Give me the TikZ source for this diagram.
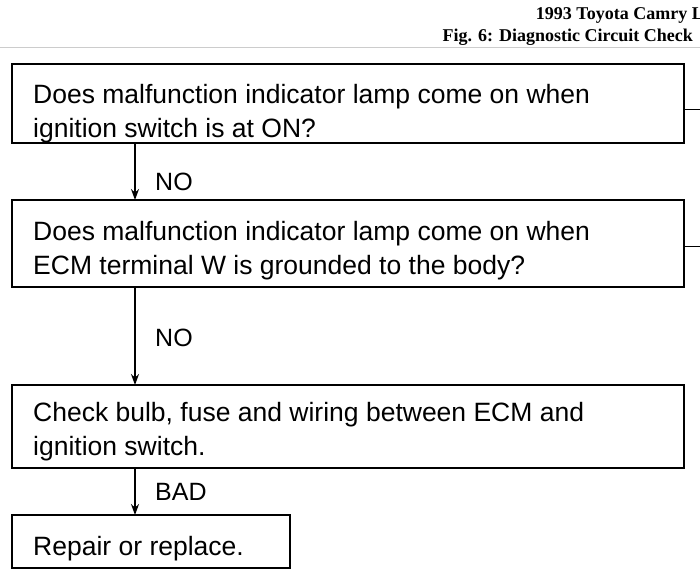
\documentclass[tikz,border=0pt]{standalone}
\usepackage{fontspec}
\setmainfont{Liberation Sans}
\newfontfamily\hdr{Liberation Serif}
\usetikzlibrary{arrows.meta}
\begin{document}
\begin{tikzpicture}[x=1pt,y=-1pt,
  box/.style={draw,line width=1.2pt},
  txt/.style={anchor=base west,align=left,font=\fontsize{26.5}{34}\selectfont,inner sep=0pt},
  lab/.style={anchor=base west,font=\fontsize{25}{28}\selectfont,inner sep=0pt},
  hd/.style={anchor=base east,inner sep=0pt,font=\hdr\bfseries\fontsize{18}{20}\selectfont},
  arr/.style={line width=1.2pt,-{Stealth[length=11pt,width=8pt]}}]
\useasboundingbox (0,0) rectangle (700,587);
\begin{scope}
\clip (0,0) rectangle (700,587);
\node[hd] (h1) at (716,19) {1993 Toyota Camry LE};
\end{scope}
\node[hd] (h2) at (693,41) {Fig. 6: Diagnostic Circuit Check};
\draw[gray!40] (0,47) -- (700,47);
\draw[box] (12,64) rectangle (684,143);
\node[txt] (t1) at (33,137) {Does malfunction indicator lamp come on when\\ignition switch is at ON?};
\coordinate (r1) at (700,109);
\draw[line width=1pt] (684,109) -- (r1);
\draw[box] (12,200) rectangle (684,287);
\node[txt] (t2) at (33,274) {Does malfunction indicator lamp come on when\\ECM terminal W is grounded to the body?};
\coordinate (r2) at (700,246);
\draw[line width=1pt] (684,246) -- (r2);
\draw[box] (12,385) rectangle (684,468);
\node[txt] (t3) at (33,455) {Check bulb, fuse and wiring between ECM and\\ignition switch.};
\draw[box] (12,515) rectangle (290,568);
\node[txt] (t4) at (33,555) {Repair or replace.};
\draw[arr] (135,143) -- (135,200);
\node[lab] (n1) at (155,190) {NO};
\draw[arr] (135,287) -- (135,385);
\node[lab] (n2) at (155,346) {NO};
\draw[arr] (135,468) -- (135,515);
\node[lab] (n3) at (155,500) {BAD};
\end{tikzpicture}
\end{document}
